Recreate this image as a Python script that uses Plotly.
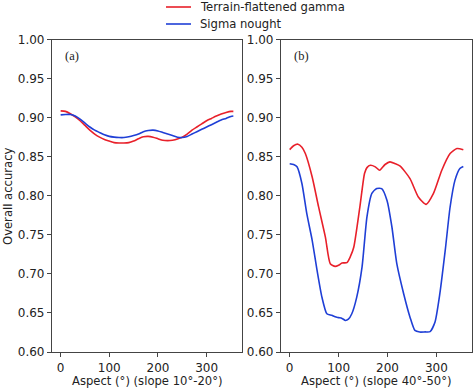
import plotly.graph_objects as go

# Panel (a): slope 10°-20°
aspect_a = [0, 10, 20, 30, 40, 50, 60, 70, 80, 90, 100, 110, 120, 130, 140, 150, 160, 170, 180,
            190, 200, 210, 220, 230, 240, 250, 260, 270, 280, 290, 300, 310, 320, 330, 340, 350, 355]
gamma_a = [0.9087, 0.908, 0.905, 0.901, 0.896, 0.890, 0.884, 0.879, 0.875, 0.872, 0.870, 0.868,
           0.8675, 0.8675, 0.868, 0.870, 0.873, 0.8755, 0.876, 0.875, 0.873, 0.871, 0.8705, 0.871,
           0.8725, 0.875, 0.879, 0.884, 0.888, 0.892, 0.896, 0.899, 0.902, 0.9045, 0.9065, 0.908, 0.908]
sigma_a = [0.9035, 0.904, 0.904, 0.902, 0.898, 0.893, 0.888, 0.884, 0.881, 0.878, 0.876, 0.875,
           0.8745, 0.8745, 0.8755, 0.877, 0.879, 0.882, 0.8835, 0.884, 0.883, 0.881, 0.879, 0.877,
           0.875, 0.8745, 0.876, 0.879, 0.882, 0.885, 0.888, 0.891, 0.894, 0.897, 0.899, 0.9015, 0.902]

# Panel (b): slope 40°-50°
aspect_b_gamma = [0, 8, 17, 25, 32, 46, 59, 73, 83, 93, 100, 107, 117, 124, 131, 144, 153, 158,
                  165, 175, 184, 195, 205, 216, 226, 246, 263, 279, 294, 311, 328, 342, 355]
gamma_b = [0.859, 0.864, 0.866, 0.862, 0.854, 0.824, 0.786, 0.747, 0.713, 0.7096, 0.711, 0.714,
           0.7144, 0.722, 0.734, 0.788, 0.8285, 0.836, 0.839, 0.837, 0.8327, 0.840, 0.8434, 0.841,
           0.8378, 0.822, 0.7985, 0.789, 0.803, 0.8327, 0.854, 0.8605, 0.859]
aspect_b_sigma = [0, 8, 15, 25, 35, 46, 56, 66, 76, 86, 93, 100, 107, 114, 120, 127, 137, 148,
                  158, 168, 178, 188, 199, 209, 219, 233, 246, 256, 266, 277, 287, 297, 307, 318,
                  328, 338, 348, 355]
sigma_b = [0.841, 0.840, 0.837, 0.8157, 0.777, 0.743, 0.7045, 0.670, 0.649, 0.647, 0.645, 0.644,
           0.643, 0.6404, 0.642, 0.649, 0.670, 0.709, 0.773, 0.803, 0.8092, 0.8092, 0.794, 0.760,
           0.713, 0.6746, 0.6446, 0.6276, 0.6255, 0.6257, 0.626, 0.638, 0.6746, 0.730, 0.7856,
           0.820, 0.835, 0.8375]

series_names = ["Terrain-flattened gamma", "Sigma nought"]
panel_labels = ["(a)", "(b)"]
x_titles = ["Aspect (°) (slope 10°-20°)", "Aspect (°) (slope 40°-50°)"]
y_title = "Overall accuracy"
x_ticks = [0, 100, 200, 300]
y_ticks = [0.60, 0.65, 0.70, 0.75, 0.80, 0.85, 0.90, 0.95, 1.00]

RED = "#e8202a"
BLUE = "#1f3fd6"
FONT = "DejaVu Sans"
LW = 1.6
TXT = "#222"

fig = go.Figure()
fig.add_trace(go.Scatter(x=aspect_a, y=gamma_a, mode="lines", name=series_names[0],
                         line=dict(color=RED, width=LW, shape="spline", smoothing=0.6),
                         xaxis="x", yaxis="y", showlegend=False))
fig.add_trace(go.Scatter(x=aspect_a, y=sigma_a, mode="lines", name=series_names[1],
                         line=dict(color=BLUE, width=LW, shape="spline", smoothing=0.6),
                         xaxis="x", yaxis="y", showlegend=False))
fig.add_trace(go.Scatter(x=aspect_b_gamma, y=gamma_b, mode="lines", name=series_names[0],
                         line=dict(color=RED, width=LW, shape="spline", smoothing=0.6),
                         xaxis="x2", yaxis="y2", showlegend=False))
fig.add_trace(go.Scatter(x=aspect_b_sigma, y=sigma_b, mode="lines", name=series_names[1],
                         line=dict(color=BLUE, width=LW, shape="spline", smoothing=0.6),
                         xaxis="x2", yaxis="y2", showlegend=False))

W, H = 474, 390
ydom = [1 - 352 / H, 1 - 39.5 / H]

axis_common = dict(showline=True, linecolor="#444", linewidth=1.2, mirror=True,
                   ticks="outside", ticklen=4, tickcolor="#444", showgrid=False,
                   zeroline=False, automargin=False,
                   tickfont=dict(family=FONT, size=12, color=TXT))

# Legend drawn in paper pixels (custom layout)
legend_rows_px = [7, 24]
legend_colors = [RED, BLUE]
shapes = []
annotations = []
for name, col, ypx in zip(series_names, legend_colors, legend_rows_px):
    yp = 1 - ypx / H
    shapes.append(dict(type="line", xref="paper", yref="paper", x0=166 / W, x1=191 / W,
                       y0=yp, y1=yp, line=dict(color=col, width=LW)))
    annotations.append(dict(text=name, xref="paper", yref="paper", x=198 / W, y=yp,
                            xanchor="left", yanchor="middle", showarrow=False,
                            font=dict(family=FONT, size=11.6, color=TXT)))

for i, lab in enumerate(panel_labels):
    sfx = "" if i == 0 else "2"
    annotations.append(dict(text=lab, xref=f"x{sfx} domain", yref=f"y{sfx} domain",
                            x=0.06, y=0.975, xanchor="left", yanchor="top", showarrow=False,
                            font=dict(family="Liberation Serif", size=12.5, color=TXT)))

annotations.append(dict(text=y_title, xref="paper", yref="paper", x=8 / W, y=1 - 196 / H,
                        xanchor="center", yanchor="middle", textangle=-90, showarrow=False,
                        font=dict(family=FONT, size=11.6, color=TXT)))
for i, t in enumerate(x_titles):
    cx = [147, 376][i]
    annotations.append(dict(text=t, xref="paper", yref="paper", x=cx / W, y=1 - 381 / H,
                            xanchor="center", yanchor="middle", showarrow=False,
                            font=dict(family=FONT, size=11.6, color=TXT)))

fig.update_layout(
    width=W, height=H,
    margin=dict(l=0, r=0, t=0, b=0, autoexpand=False),
    paper_bgcolor="white", plot_bgcolor="white",
    font=dict(family=FONT, size=11, color=TXT),
    showlegend=False,
    xaxis=dict(domain=[52 / W, 242 / W], range=[-17.75, 372.75], tickvals=x_ticks,
               anchor="y", **axis_common),
    yaxis=dict(domain=ydom, range=[0.60, 1.00], tickvals=y_ticks, tickformat=".2f",
               anchor="x", **axis_common),
    xaxis2=dict(domain=[281 / W, 472 / W], range=[-17.75, 372.75], tickvals=x_ticks,
                anchor="y2", **axis_common),
    yaxis2=dict(domain=ydom, range=[0.60, 1.00], tickvals=y_ticks, tickformat=".2f",
                anchor="x2", **axis_common),
    shapes=shapes,
    annotations=annotations,
)

fig.write_html("out.html", config={"displayModeBar": False},
               post_script="document.body.style.margin='0';")
